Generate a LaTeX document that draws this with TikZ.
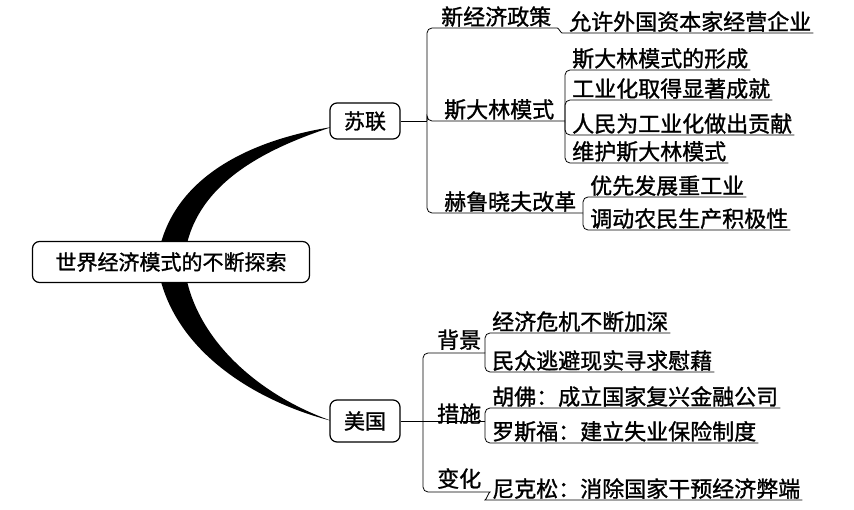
\documentclass[tikz,border=0pt]{standalone}
\usepackage{fontspec}
\setmainfont{Noto Sans CJK SC}[FakeBold=1.2]
\begin{document}
\begin{tikzpicture}[x=1pt,y=-1pt,
  box/.style={draw, very thick, rounded corners=7pt, fill=white, inner sep=4pt, font=\fontsize{21}{21}\selectfont},
  topic/.style={anchor=south west, inner sep=1pt, font=\fontsize{22}{22}\selectfont},
  leaf/.style={anchor=south west, inner xsep=2pt, inner ysep=1pt, font=\fontsize{22}{22}\selectfont},
  line/.style={draw, thick, rounded corners=5pt}]
    \useasboundingbox (0,0) rectangle (854,510);
    % main curves
    \fill (157,262) .. controls (168,178) and (250,140) .. (332,127) .. controls (255,152) and (190,190) .. (184,262) -- cycle;
    \fill (157,262) .. controls (168,346) and (250,400) .. (332,421) .. controls (255,394) and (190,334) .. (184,262) -- cycle;
    \node[box, minimum width=277pt, minimum height=41pt] (root) at (171,262) {世界经济模式的不断探索};
    \node[box, minimum width=70pt, minimum height=36pt] (su) at (365,121) {苏联};
    \node[box, minimum width=70pt, minimum height=42pt] (us) at (365,421) {美国};

    % Soviet Union
    \coordinate (su-sp) at (427,121);
    \node[topic] (nep) at (440,28) {新经济政策};
    \node[topic] (stm) at (443,121) {斯大林模式};
    \node[topic] (khr) at (443,213) {赫鲁晓夫改革};
    \node[leaf] (nep-1) at (567,33) {允许外国资本家经营企业};
    \node[leaf] (stm-1) at (570,70) {斯大林模式的形成};
    \node[leaf] (stm-2) at (570,100) {工业化取得显著成就};
    \node[leaf] (stm-3) at (570,135) {人民为工业化做出贡献};
    \node[leaf] (stm-4) at (570,163) {维护斯大林模式};
    \node[leaf] (khr-1) at (588,197) {优先发展重工业};
    \node[leaf] (khr-2) at (588,230) {调动农民生产积极性};

    \draw[line] (su.east) -- (su-sp);
    \draw[line] (su-sp) |- (nep.south east) to[out=0,in=180] (nep-1.south west) -- (nep-1.south east);
    \draw[line] (su-sp) |- (stm.south east -| 565,0);
    \draw[line] (su-sp) |- (khr.south east -| 583,0);
    \foreach \l in {1,...,4}
        \draw[line] (565,123) |- (stm-\l.south east);
    \foreach \l in {1,2}
        \draw[line] (583,215) |- (khr-\l.south east);

    % USA
    \coordinate (us-sp) at (423,421);
    \node[topic] (bg) at (436,351) {背景};
    \node[topic] (cs) at (436,425) {措施};
    \node[topic] (bh) at (436,490) {变化};
    \node[leaf] (bg-1) at (490,333) {经济危机不断加深};
    \node[leaf] (bg-2) at (490,372) {民众逃避现实寻求慰藉};
    \node[leaf] (cs-1) at (490,408) {胡佛：成立国家复兴金融公司};
    \node[leaf] (cs-2) at (490,443) {罗斯福：建立失业保险制度};
    \node[leaf] (bh-1) at (490,500) {尼克松：消除国家干预经济弊端};

    \draw[line] (us.east) -- (us-sp);
    \draw[line] (us-sp) |- (485,353);
    \draw[line] (us-sp) -- (485,421);
    \draw[line] (us-sp) |- (485,492) to[out=0,in=180] (bh-1.south west) -- (bh-1.south east);
    \foreach \l in {1,2}
        \draw[line] (485,353) |- (bg-\l.south east);
    \foreach \l in {1,2}
        \draw[line] (485,421) |- (cs-\l.south east);
\end{tikzpicture}
\end{document}
